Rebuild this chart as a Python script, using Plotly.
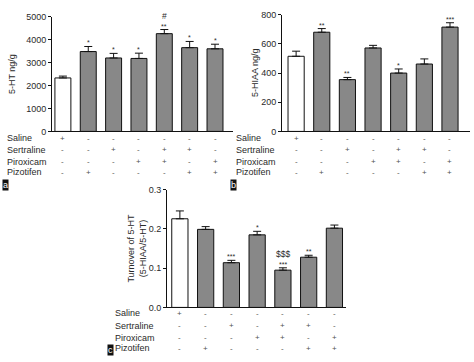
import plotly.graph_objects as go

W, H = 474, 362

groups = list(range(7))
row_names = ["Saline", "Sertraline", "Piroxicam", "Pizotifen"]
signs = [
    ["+", "-", "-", "-", "-", "-", "-"],
    ["-", "-", "+", "-", "+", "+", "-"],
    ["-", "-", "-", "+", "+", "-", "+"],
    ["-", "+", "-", "-", "-", "+", "+"],
]

ht_vals = [2330, 3480, 3200, 3180, 4260, 3650, 3600]
ht_err = [80, 220, 200, 230, 180, 270, 200]
ht_sig = ["", "*", "*", "*", "**", "*", "*"]
ht_sig2 = ["", "", "", "", "#", "", ""]

hiaa_vals = [515, 680, 355, 572, 400, 462, 715]
hiaa_err = [35, 25, 15, 18, 28, 35, 30]
hiaa_sig = ["", "**", "**", "", "*", "", "***"]
hiaa_sig2 = ["", "", "", "", "", "", ""]

turn_vals = [0.226, 0.199, 0.114, 0.185, 0.095, 0.128, 0.202]
turn_err = [0.020, 0.007, 0.006, 0.009, 0.006, 0.005, 0.008]
turn_sig = ["", "", "***", "*", "***", "**", ""]
turn_sig2 = ["", "", "", "", "$$$", "", ""]

FONT = "Liberation Sans, Arial, sans-serif"
TXT = "#2a2a2a"
GRAY = "#888888"

def px_x(p):
    return p / W

def px_y(p):
    return 1 - p / H

panels = [
    dict(vals=ht_vals, err=ht_err, sig=ht_sig, sig2=ht_sig2, xd=[52, 233], yd=[130, 12],
         xr=[-0.43, 6.71], yr=[0, 5000], dtick=1000, fmt="d", title="5-HT ng/g",
         title_x=12, lab_x=5, rows=[137, 149, 161, 172], letter="a", let_xy=(5, 185)),
    dict(vals=hiaa_vals, err=hiaa_err, sig=hiaa_sig, sig2=hiaa_sig2, xd=[282, 470], yd=[130, 10],
         xr=[-0.55, 6.78], yr=[0, 800], dtick=200, fmt="d", title="5-HIAA ng/g",
         title_x=255, lab_x=234, rows=[137, 149, 161, 172], letter="b", let_xy=(233, 185)),
    dict(vals=turn_vals, err=turn_err, sig=turn_sig, sig2=turn_sig2, xd=[167, 346], yd=[311, 190],
         xr=[-0.5, 6.45], yr=[0, 0.3], dtick=0.1, fmt=".1f", title="Turnover of 5-HT<br>(5-HIAA/5-HT)",
         title_x=137, lab_x=113, rows=[317, 330, 342, 353], letter="c", let_xy=(110, 355)),
]

fig = go.Figure()
annotations = []
layout = dict(width=W, height=H, margin=dict(l=0, r=0, t=0, b=0),
              paper_bgcolor="white", plot_bgcolor="white", showlegend=False,
              font=dict(family=FONT, color=TXT, size=9))

for k, p in enumerate(panels, start=1):
    xa = "x" if k == 1 else f"x{k}"
    ya = "y" if k == 1 else f"y{k}"
    colors = ["white"] + [GRAY] * 6
    fig.add_trace(go.Bar(
        x=groups, y=p["vals"], width=0.63, xaxis=xa, yaxis=ya,
        marker=dict(color=colors, line=dict(color="#111", width=1)),
        error_y=dict(type="data", array=p["err"], arrayminus=[0] * 7, symmetric=False,
                     color="#111", thickness=1, width=4),
        hoverinfo="skip",
    ))
    layout["xaxis" if k == 1 else f"xaxis{k}"] = dict(
        domain=[px_x(p["xd"][0]), px_x(p["xd"][1])], range=p["xr"], anchor=ya,
        showticklabels=False, ticks="", showgrid=False, zeroline=False,
        showline=True, linecolor="#111", linewidth=1, fixedrange=True)
    layout["yaxis" if k == 1 else f"yaxis{k}"] = dict(
        domain=[px_y(p["yd"][0]), px_y(p["yd"][1])], range=p["yr"], anchor=xa,
        dtick=p["dtick"], tickformat=p["fmt"], ticks="outside", ticklen=3, tickwidth=1,
        tickcolor="#111", showgrid=False, zeroline=False, showline=True,
        linecolor="#111", linewidth=1, tickfont=dict(size=9, color=TXT), fixedrange=True)
    # significance marks
    for i in groups:
        top = p["vals"][i] + p["err"][i]
        if p["sig"][i]:
            annotations.append(dict(x=i, y=top, xref=xa, yref=ya, text=p["sig"][i],
                                    showarrow=False, xanchor="center", yanchor="bottom", yshift=-2,
                                    font=dict(size=7, color=TXT)))
        if p["sig2"][i]:
            annotations.append(dict(x=i, y=top, xref=xa, yref=ya, text=p["sig2"][i],
                                    showarrow=False, xanchor="center", yanchor="bottom", yshift=7,
                                    font=dict(size=8.5, color=TXT)))
    # y title
    ymid = (p["yd"][0] + p["yd"][1]) / 2
    annotations.append(dict(x=px_x(p["title_x"]), y=px_y(ymid), xref="paper", yref="paper",
                            text=p["title"], textangle=-90, showarrow=False,
                            xanchor="center", yanchor="middle",
                            font=dict(size=9, color=TXT)))
    # sign table
    for r, name in enumerate(row_names):
        yr_ = px_y(p["rows"][r])
        annotations.append(dict(x=px_x(p["lab_x"]), y=yr_, xref="paper", yref="paper",
                                text=name, showarrow=False, xanchor="left", yanchor="middle",
                                font=dict(size=9, color=TXT)))
        for i in groups:
            annotations.append(dict(x=i, y=yr_, xref=xa, yref="paper", text=signs[r][i],
                                    showarrow=False, xanchor="center", yanchor="middle",
                                    font=dict(size=8, color="#555")))
    # panel letter
    lx, ly = p["let_xy"]
    annotations.append(dict(x=px_x(lx), y=px_y(ly), xref="paper", yref="paper",
                            text=p["letter"], showarrow=False, bgcolor="#111",
                            xanchor="center", yanchor="middle",
                            borderpad=0, font=dict(size=9, color="white")))

layout["annotations"] = annotations
fig.update_layout(**layout)
fig.write_html("out.html", config={"displayModeBar": False, "staticPlot": True},
               post_script="document.body.style.margin='0';document.body.style.overflow='hidden';")
